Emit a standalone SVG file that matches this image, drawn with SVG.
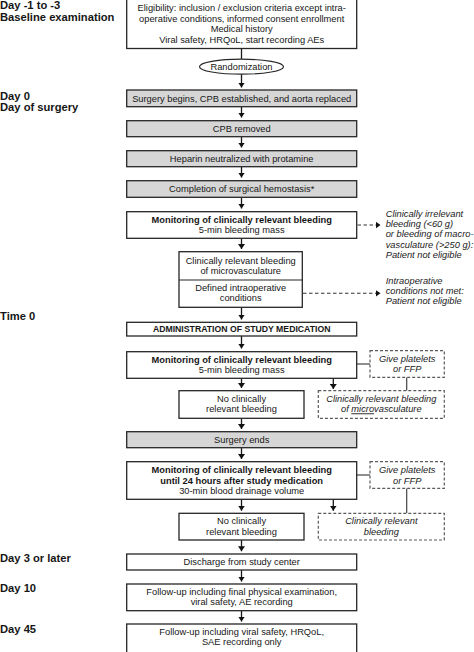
<svg xmlns="http://www.w3.org/2000/svg" width="474" height="652" viewBox="0 0 474 652">
<style>
text{font-family:"Liberation Sans",Arial,sans-serif;fill:#161616;font-size:9.3px;text-anchor:middle}
.b{font-weight:bold}
.cap{font-weight:bold;font-size:8.7px}
.i{font-style:italic;fill:#222}
.l{text-anchor:start;font-weight:bold;font-size:11.2px}
.r{text-anchor:start;font-style:italic;fill:#222}
.box{fill:#fff;stroke:#262626;stroke-width:1.3}
.g{fill:#d6d6d6;stroke:#262626;stroke-width:1.3}
.d{fill:#fff;stroke:#5a5a5a;stroke-width:1.2;stroke-dasharray:3 2}
.c{stroke:#1a1a1a;stroke-width:1.3;fill:none}
.cd{stroke:#333;stroke-width:1.1;fill:none;stroke-dasharray:3.5 2.5}
.cg{stroke:#444;stroke-width:1.2;fill:none}
</style>
<defs>
<marker id="ah" viewBox="0 0 10 10" refX="10" refY="5" markerUnits="userSpaceOnUse" markerWidth="5" markerHeight="7" orient="auto" preserveAspectRatio="none">
<path d="M0,0 L10,5 L0,10 z" fill="#111"/>
</marker>
</defs>

<g id="labels">
<text class="l" x="0" y="9">Day -1 to -3</text>
<text class="l" x="0" y="20.5">Baseline examination</text>
<text class="l" x="0" y="100">Day 0</text>
<text class="l" x="0" y="110.5">Day of surgery</text>
<text class="l" x="0" y="319.5">Time 0</text>
<text class="l" x="0" y="562">Day 3 or later</text>
<text class="l" x="0" y="592">Day 10</text>
<text class="l" x="0" y="632.5">Day 45</text>
</g>

<g id="connectors">
<line class="c" x1="241.5" y1="48.5" x2="241.5" y2="59.2"/>
<line class="c" x1="241.5" y1="74.2" x2="241.5" y2="87.5" marker-end="url(#ah)"/>
<line class="c" x1="241.5" y1="106.7" x2="241.5" y2="117.5" marker-end="url(#ah)"/>
<line class="c" x1="241.5" y1="136.7" x2="241.5" y2="147.5" marker-end="url(#ah)"/>
<line class="c" x1="241.5" y1="166.7" x2="241.5" y2="177.5" marker-end="url(#ah)"/>
<line class="c" x1="241.5" y1="197.3" x2="241.5" y2="208.5" marker-end="url(#ah)"/>
<line class="c" x1="241.5" y1="238.3" x2="241.5" y2="249" marker-end="url(#ah)"/>
<line class="c" x1="241.5" y1="307.3" x2="241.5" y2="319.5" marker-end="url(#ah)"/>
<line class="c" x1="241.5" y1="336" x2="241.5" y2="348.5" marker-end="url(#ah)"/>
<line class="c" x1="241.5" y1="378.3" x2="241.5" y2="388" marker-end="url(#ah)"/>
<line class="c" x1="241.5" y1="418.3" x2="241.5" y2="429" marker-end="url(#ah)"/>
<line class="c" x1="241.5" y1="447.7" x2="241.5" y2="459" marker-end="url(#ah)"/>
<line class="c" x1="241.5" y1="499.3" x2="241.5" y2="510.7" marker-end="url(#ah)"/>
<line class="c" x1="241.5" y1="540" x2="241.5" y2="551.3" marker-end="url(#ah)"/>
<line class="c" x1="241.5" y1="570" x2="241.5" y2="581.5" marker-end="url(#ah)"/>
<line class="c" x1="241.5" y1="610.7" x2="241.5" y2="621.5" marker-end="url(#ah)"/>
<line class="c" x1="333.3" y1="378.3" x2="333.3" y2="389" marker-end="url(#ah)"/>
<line class="c" x1="333.3" y1="499.3" x2="333.3" y2="510.7" marker-end="url(#ah)"/>
<line class="cg" x1="406.7" y1="377.3" x2="406.7" y2="390.7"/>
<line class="cg" x1="406.7" y1="488.3" x2="406.7" y2="513.3"/>
<line class="cg" x1="370" y1="364" x2="348.5" y2="364" marker-end="url(#ah)"/>
<line class="cg" x1="370" y1="475" x2="348.5" y2="475" marker-end="url(#ah)"/>
<line class="cd" x1="357.5" y1="225" x2="380.5" y2="225" marker-end="url(#ah)"/>
<line class="cd" x1="303" y1="293.3" x2="380.5" y2="293.3" marker-end="url(#ah)"/>
</g>

<g id="baseline">
<rect class="box" x="126.7" y="-1" width="230" height="49.5"/>
<text x="241.7" y="11">Eligibility: inclusion / exclusion criteria except intra-</text>
<text x="241.7" y="21.5">operative conditions, informed consent enrollment</text>
<text x="241.7" y="32">Medical history</text>
<text x="241.7" y="42.5">Viral safety, HRQoL, start recording AEs</text>
</g>
<g id="randomization">
<ellipse cx="241.5" cy="66.7" rx="42" ry="7.5" fill="#fff" stroke="#262626" stroke-width="1.2"/>
<text x="241.5" y="69.9">Randomization</text>
</g>
<g id="surgery-begins">
<rect class="g" x="126.7" y="90" width="230" height="16.7"/>
<text x="241.7" y="101.5">Surgery begins, CPB established, and aorta replaced</text>
</g>
<g id="cpb-removed">
<rect class="g" x="126.7" y="120.7" width="230" height="16"/>
<text x="241.7" y="131.8">CPB removed</text>
</g>
<g id="heparin">
<rect class="g" x="126.7" y="150.7" width="230" height="16"/>
<text x="241.7" y="161.8">Heparin neutralized with protamine</text>
</g>
<g id="hemostasis">
<rect class="g" x="126.7" y="180.7" width="230" height="16.6"/>
<text x="241.7" y="192.2">Completion of surgical hemostasis*</text>
</g>
<g id="monitoring1">
<rect class="box" x="126.7" y="211.7" width="230" height="26.6"/>
<text class="b" x="241.7" y="222.7">Monitoring of clinically relevant bleeding</text>
<text x="241.7" y="233">5-min bleeding mass</text>
</g>
<g id="not-eligible1">
<text class="r" x="385.7" y="216.7">Clinically irrelevant</text>
<text class="r" x="385.7" y="227">bleeding (&lt;60 g)</text>
<text class="r" x="385.7" y="237.3">or bleeding of macro-</text>
<text class="r" x="385.7" y="247.5">vasculature (&gt;250 g):</text>
<text class="r" x="385.7" y="257.7">Patient not eligible</text>
</g>
<g id="microvasc-conditions">
<rect class="box" x="179" y="251.7" width="123.3" height="55.6"/>
<line x1="179" y1="280" x2="302.3" y2="280" stroke="#262626" stroke-width="1.1"/>
<text x="240.7" y="263.5">Clinically relevant bleeding</text>
<text x="240.7" y="273.7">of microvasculature</text>
<text x="240.7" y="291">Defined intraoperative</text>
<text x="240.7" y="301.2">conditions</text>
</g>
<g id="not-eligible2">
<text class="r" x="385.7" y="283.5">Intraoperative</text>
<text class="r" x="385.7" y="293.7">conditions not met:</text>
<text class="r" x="385.7" y="304">Patient not eligible</text>
</g>
<g id="administration">
<rect class="box" x="126.7" y="322.3" width="230" height="13.7"/>
<text class="cap" x="241.7" y="332.4">ADMINISTRATION OF STUDY MEDICATION</text>
</g>
<g id="monitoring2">
<rect class="box" x="126.7" y="351.7" width="230" height="26.6"/>
<text class="b" x="241.7" y="362.5">Monitoring of clinically relevant bleeding</text>
<text x="241.7" y="372.7">5-min bleeding mass</text>
</g>
<g id="platelets1">
<rect class="d" x="370" y="350.7" width="74.3" height="26.6"/>
<text class="i" x="407.2" y="362">Give platelets</text>
<text class="i" x="407.2" y="372.2">or FFP</text>
</g>
<g id="bleeding-micro">
<rect class="d" x="318.3" y="390.7" width="126" height="27.6"/>
<text class="i" x="381.3" y="402">Clinically relevant bleeding</text>
<text class="i" x="381.3" y="412.3">of <tspan text-decoration="underline">micro</tspan>vasculature</text>
</g>
<g id="no-bleeding1">
<rect class="box" x="179" y="390.7" width="125" height="27.6"/>
<text x="241.5" y="402">No clinically</text>
<text x="241.5" y="412.3">relevant bleeding</text>
</g>
<g id="surgery-ends">
<rect class="g" x="126.7" y="431.7" width="230" height="16"/>
<text x="241.7" y="442.8">Surgery ends</text>
</g>
<g id="monitoring3">
<rect class="box" x="126.7" y="461.7" width="230" height="37.6"/>
<text class="b" x="241.7" y="473.3">Monitoring of clinically relevant bleeding</text>
<text class="b" x="241.7" y="483.5">until 24 hours after study medication</text>
<text x="241.7" y="493.7">30-min blood drainage volume</text>
</g>
<g id="platelets2">
<rect class="d" x="370" y="461.7" width="74.3" height="26.6"/>
<text class="i" x="407.2" y="473.3">Give platelets</text>
<text class="i" x="407.2" y="483.5">or FFP</text>
</g>
<g id="bleeding2">
<rect class="d" x="318.3" y="513.3" width="126" height="26.7"/>
<text class="i" x="381.3" y="524.3">Clinically relevant</text>
<text class="i" x="381.3" y="534.5">bleeding</text>
</g>
<g id="no-bleeding2">
<rect class="box" x="179" y="513.3" width="125" height="26.7"/>
<text x="241.5" y="524.3">No clinically</text>
<text x="241.5" y="534.5">relevant bleeding</text>
</g>
<g id="discharge">
<rect class="box" x="126.7" y="554" width="230" height="16"/>
<text x="241.7" y="565.3">Discharge from study center</text>
</g>
<g id="followup10">
<rect class="box" x="126.7" y="584" width="230" height="26.7"/>
<text x="241.7" y="595">Follow-up including final physical examination,</text>
<text x="241.7" y="605.2">viral safety, AE recording</text>
</g>
<g id="followup45">
<rect class="box" x="126.7" y="624" width="230" height="32"/>
<text x="241.7" y="635">Follow-up including viral safety, HRQoL,</text>
<text x="241.7" y="645.2">SAE recording only</text>
</g>
</svg>
